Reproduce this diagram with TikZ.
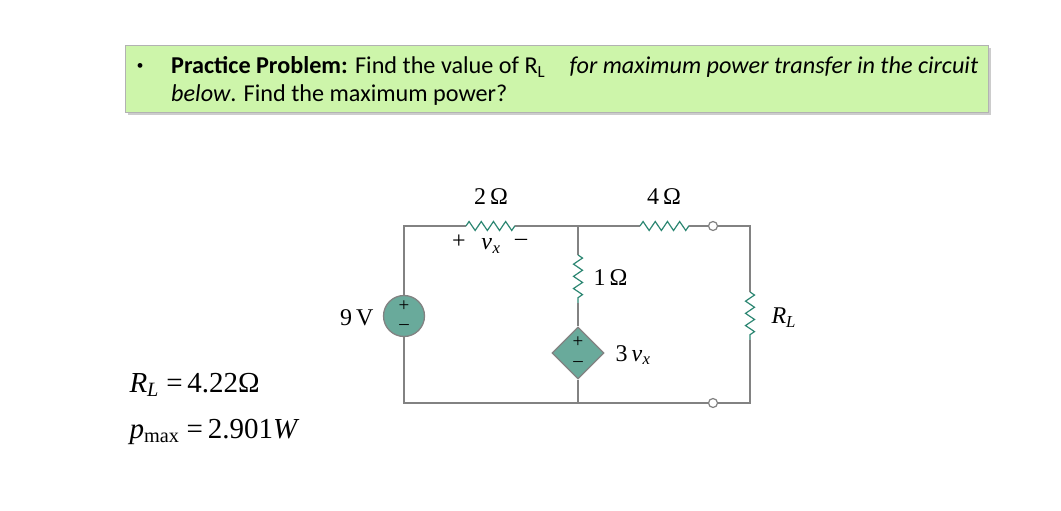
\documentclass[tikz,border=0pt]{standalone}
\usepackage{fontspec}
\setmainfont{Liberation Serif}
\newfontfamily\carlitofont{Carlito}
\usetikzlibrary{decorations.pathmorphing,shapes.geometric}
\definecolor{res}{RGB}{45,135,115}
\definecolor{src}{RGB}{105,170,155}
\definecolor{wire}{RGB}{130,130,130}
\definecolor{bann}{RGB}{205,245,170}
\newcommand{\vxx}{\textit{v}\kern0.5pt\textsubscript{\textit{x}}}
\begin{document}
\begin{tikzpicture}[x=1pt,y=-1pt,
  w/.style={draw=wire,line width=1.3pt},
  rz/.style={draw=res,line width=1.2pt,decorate,decoration={zigzag,amplitude=4.5pt,segment length=12.2pt}},
  term/.style={circle,draw=wire,fill=white,line width=1.2pt,inner sep=0,minimum size=9pt},
  lab/.style={font=\fontsize{24}{28}\selectfont},
  ban/.style={anchor=base west,inner sep=0,font=\carlitofont\fontsize{24.2}{29}\selectfont},
  pm/.style={font=\fontsize{19}{19}\selectfont,inner sep=0}]
\useasboundingbox (0,0) rectangle (1061,511);
\fill[gray!40] (128,48) rectangle (991,115);
\draw[fill=bann,draw=gray!60] (125,45) rectangle (988,112);
\node (bul) at (140,68) {\fontsize{20}{20}\selectfont\textbullet};
\node[ban] (txt1) at (171,74) {\textbf{Practice Problem:} Find the value of  R\textsubscript{L}\quad \textit{for maximum power transfer in the circuit}};
\node[ban] (txt2) at (171,102) {\textit{below}. Find the maximum power?};
% coordinates
\coordinate (tl) at (404,226); \coordinate (bl) at (404,403);
\coordinate (tm) at (578,226); \coordinate (bm) at (578,403);
\coordinate (tr) at (750,226); \coordinate (br) at (750,403);
\coordinate (r2a) at (466,226); \coordinate (r2b) at (515,226);
\coordinate (r4a) at (640,226); \coordinate (r4b) at (689,226);
\coordinate (r1a) at (578,255); \coordinate (r1b) at (578,303);
\coordinate (rla) at (750,292); \coordinate (rlb) at (750,340);
\node[term] (ta) at (713,226) {};
\node[term] (tb) at (713,403) {};
\node[circle,draw=wire,fill=src,line width=1.3pt,minimum size=41pt,inner sep=0] (vs) at (404,316) {};
\node[diamond,draw=wire,fill=src,line width=1.3pt,minimum size=52pt,inner sep=0] (ds) at (578,353) {};
\draw[w] (vs.north) -- (tl) -- (r2a);
\draw[rz] (r2a) -- (r2b);
\draw[w] (r2b) -- (tm) -- (r4a);
\draw[rz] (r4a) -- (r4b);
\draw[w] (r4b) -- (ta) -- (tr) -- (rla);
\draw[rz] (rla) -- (rlb);
\draw[w] (rlb) -- (br) -- (tb) -- (bm) -- (bl) -- (vs.south);
\draw[w] (tm) -- (r1a); \draw[rz] (r1a) -- (r1b); \draw[w] (r1b) -- (ds.north);
\draw[w] (ds.south) -- (bm);
\node[pm] (p1) at (404,306) {+}; \node[pm] (m1) at (404,327) {--};
\node[pm] (p2) at (578,342) {+}; \node[pm] (m2) at (578,364) {--};
\node[lab] (l2) at (491,197) {2\,Ω};
\node[lab] (l4) at (664,197) {4\,Ω};
\node[lab,anchor=west] (l1) at (590,278) {1\,Ω};
\node[lab,anchor=east] (l9) at (377,318) {9\,V};
\node[lab,anchor=west] (ld) at (612,355) {3\,\vxx};
\node[lab,anchor=west] (lr) at (768,318) {\textit{R}\textsubscript{\textit{L}}};
\node[lab] (vp) at (459,242) {+};
\node[lab] (vx) at (491,246) {\vxx};
\node[lab] (vm) at (521,242) {--};
\node[anchor=west,font=\fontsize{29}{32}\selectfont] (a1) at (126,385) {\textit{R}\textsubscript{\textit{L}} =\,4.22Ω};
\node[anchor=west,font=\fontsize{29}{32}\selectfont] (a2) at (126,432) {\textit{p}\textsubscript{max} =\,2.901\textit{W}};
\end{tikzpicture}
\end{document}
